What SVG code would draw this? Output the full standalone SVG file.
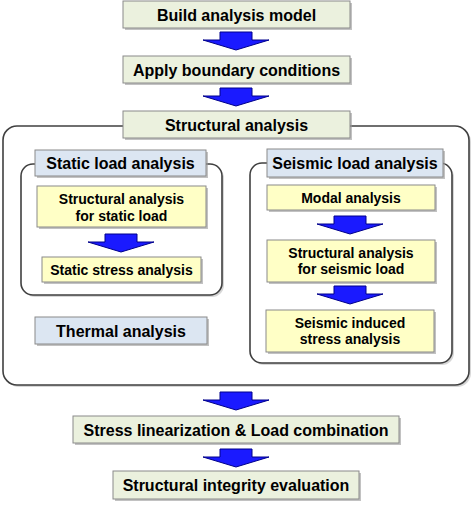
<svg xmlns="http://www.w3.org/2000/svg" width="474" height="505" viewBox="0 0 474 505">
<defs>
<style>
.t{font-family:"Liberation Sans",Arial,sans-serif;font-weight:bold;fill:#000;text-anchor:middle}
.big{font-size:16px}
.sm{font-size:14px}
.g{fill:#ebf1de;stroke:#8a8a8a;stroke-width:1}
.b{fill:#dce6f2;stroke:#8a8a8a;stroke-width:1}
.y{fill:#ffffc6;stroke:#8a8a8a;stroke-width:1}
.sh{fill:#9a9a9a;opacity:0.6}
.cont{fill:#fff;stroke:#404040;stroke-width:1.6}
.arr{fill:#1a1aff;stroke:#00008b;stroke-width:1}
</style>
<path id="ar" d="M17,0 H49 V8 H66 L33,18 L0,8 H17 Z"/>
</defs>
<rect width="474" height="505" fill="#fff"/>

<g id="containers">
<rect x="5" y="128" width="466" height="259" rx="14" fill="#b0b0b0" opacity="0.5"/>
<rect id="outer" class="cont" x="3" y="126" width="466" height="259" rx="14"/>
<rect x="23" y="166" width="201" height="131" rx="12" fill="#b0b0b0" opacity="0.5"/>
<rect id="staticBox" class="cont" x="21" y="164" width="201" height="131" rx="12"/>
<rect x="252" y="165" width="202" height="200" rx="12" fill="#b0b0b0" opacity="0.5"/>
<rect id="seismicBox" class="cont" x="250" y="163" width="202" height="200" rx="12"/>
</g>

<g id="connectors">
<use href="#ar" class="arr" x="203" y="32"/>
<use href="#ar" class="arr" x="203" y="88"/>
<use href="#ar" class="arr" x="88" y="234"/>
<use href="#ar" class="arr" x="317" y="216"/>
<use href="#ar" class="arr" x="317" y="286"/>
<use href="#ar" class="arr" x="203" y="392"/>
<use href="#ar" class="arr" x="203" y="449"/>
</g>

<g id="build">
<rect class="sh" x="125" y="3" width="227" height="27"/>
<rect class="g" x="123" y="1" width="227" height="27"/>
<text class="t big" x="236.5" y="20.5">Build analysis model</text>
</g>
<g id="apply">
<rect class="sh" x="125" y="58" width="227" height="27"/>
<rect class="g" x="123" y="56" width="227" height="27"/>
<text class="t big" x="236.5" y="75.5">Apply boundary conditions</text>
</g>
<g id="structural">
<rect class="sh" x="125" y="113" width="227" height="27"/>
<rect class="g" x="123" y="111" width="227" height="27"/>
<text class="t big" x="236.5" y="130.5">Structural analysis</text>
</g>

<g id="staticHeader">
<rect class="sh" x="37" y="152" width="171" height="26"/>
<rect class="b" x="35" y="150" width="171" height="26"/>
<text class="t big" x="120.5" y="169">Static load analysis</text>
</g>
<g id="staticStruct">
<rect class="sh" x="39" y="188" width="169" height="41"/>
<rect class="y" x="37" y="186" width="169" height="41"/>
<text class="t sm" x="121.5" y="203.5">Structural analysis</text>
<text class="t sm" x="121.5" y="220.5">for static load</text>
</g>
<g id="staticStress">
<rect class="sh" x="44" y="259" width="159" height="25"/>
<rect class="y" x="42" y="257" width="159" height="25"/>
<text class="t sm" x="121.5" y="274.5">Static stress analysis</text>
</g>
<g id="thermal">
<rect class="sh" x="37" y="319" width="172" height="27"/>
<rect class="b" x="35" y="317" width="172" height="27"/>
<text class="t big" x="121" y="336.5">Thermal analysis</text>
</g>

<g id="seismicHeader">
<rect class="sh" x="269" y="151" width="176" height="28"/>
<rect class="b" x="267" y="149" width="176" height="28"/>
<text class="t big" x="355" y="169">Seismic load analysis</text>
</g>
<g id="modal">
<rect class="sh" x="269" y="187" width="168" height="25"/>
<rect class="y" x="267" y="185" width="168" height="25"/>
<text class="t sm" x="351" y="202.5">Modal analysis</text>
</g>
<g id="seismicStruct">
<rect class="sh" x="269" y="242" width="168" height="42"/>
<rect class="y" x="267" y="240" width="168" height="42"/>
<text class="t sm" x="351" y="257.5">Structural analysis</text>
<text class="t sm" x="351" y="274">for seismic load</text>
</g>
<g id="seismicStress">
<rect class="sh" x="268" y="312" width="168" height="42"/>
<rect class="y" x="266" y="310" width="168" height="42"/>
<text class="t sm" x="350" y="327.5">Seismic induced</text>
<text class="t sm" x="350" y="344">stress analysis</text>
</g>

<g id="stressLin">
<rect class="sh" x="75" y="418" width="326" height="27"/>
<rect class="g" x="73" y="416" width="326" height="27"/>
<text class="t big" x="236" y="435.5">Stress linearization &amp; Load combination</text>
</g>
<g id="integrity">
<rect class="sh" x="115" y="473" width="246" height="28"/>
<rect class="g" x="113" y="471" width="246" height="28"/>
<text class="t big" x="236" y="491">Structural integrity evaluation</text>
</g>
</svg>
